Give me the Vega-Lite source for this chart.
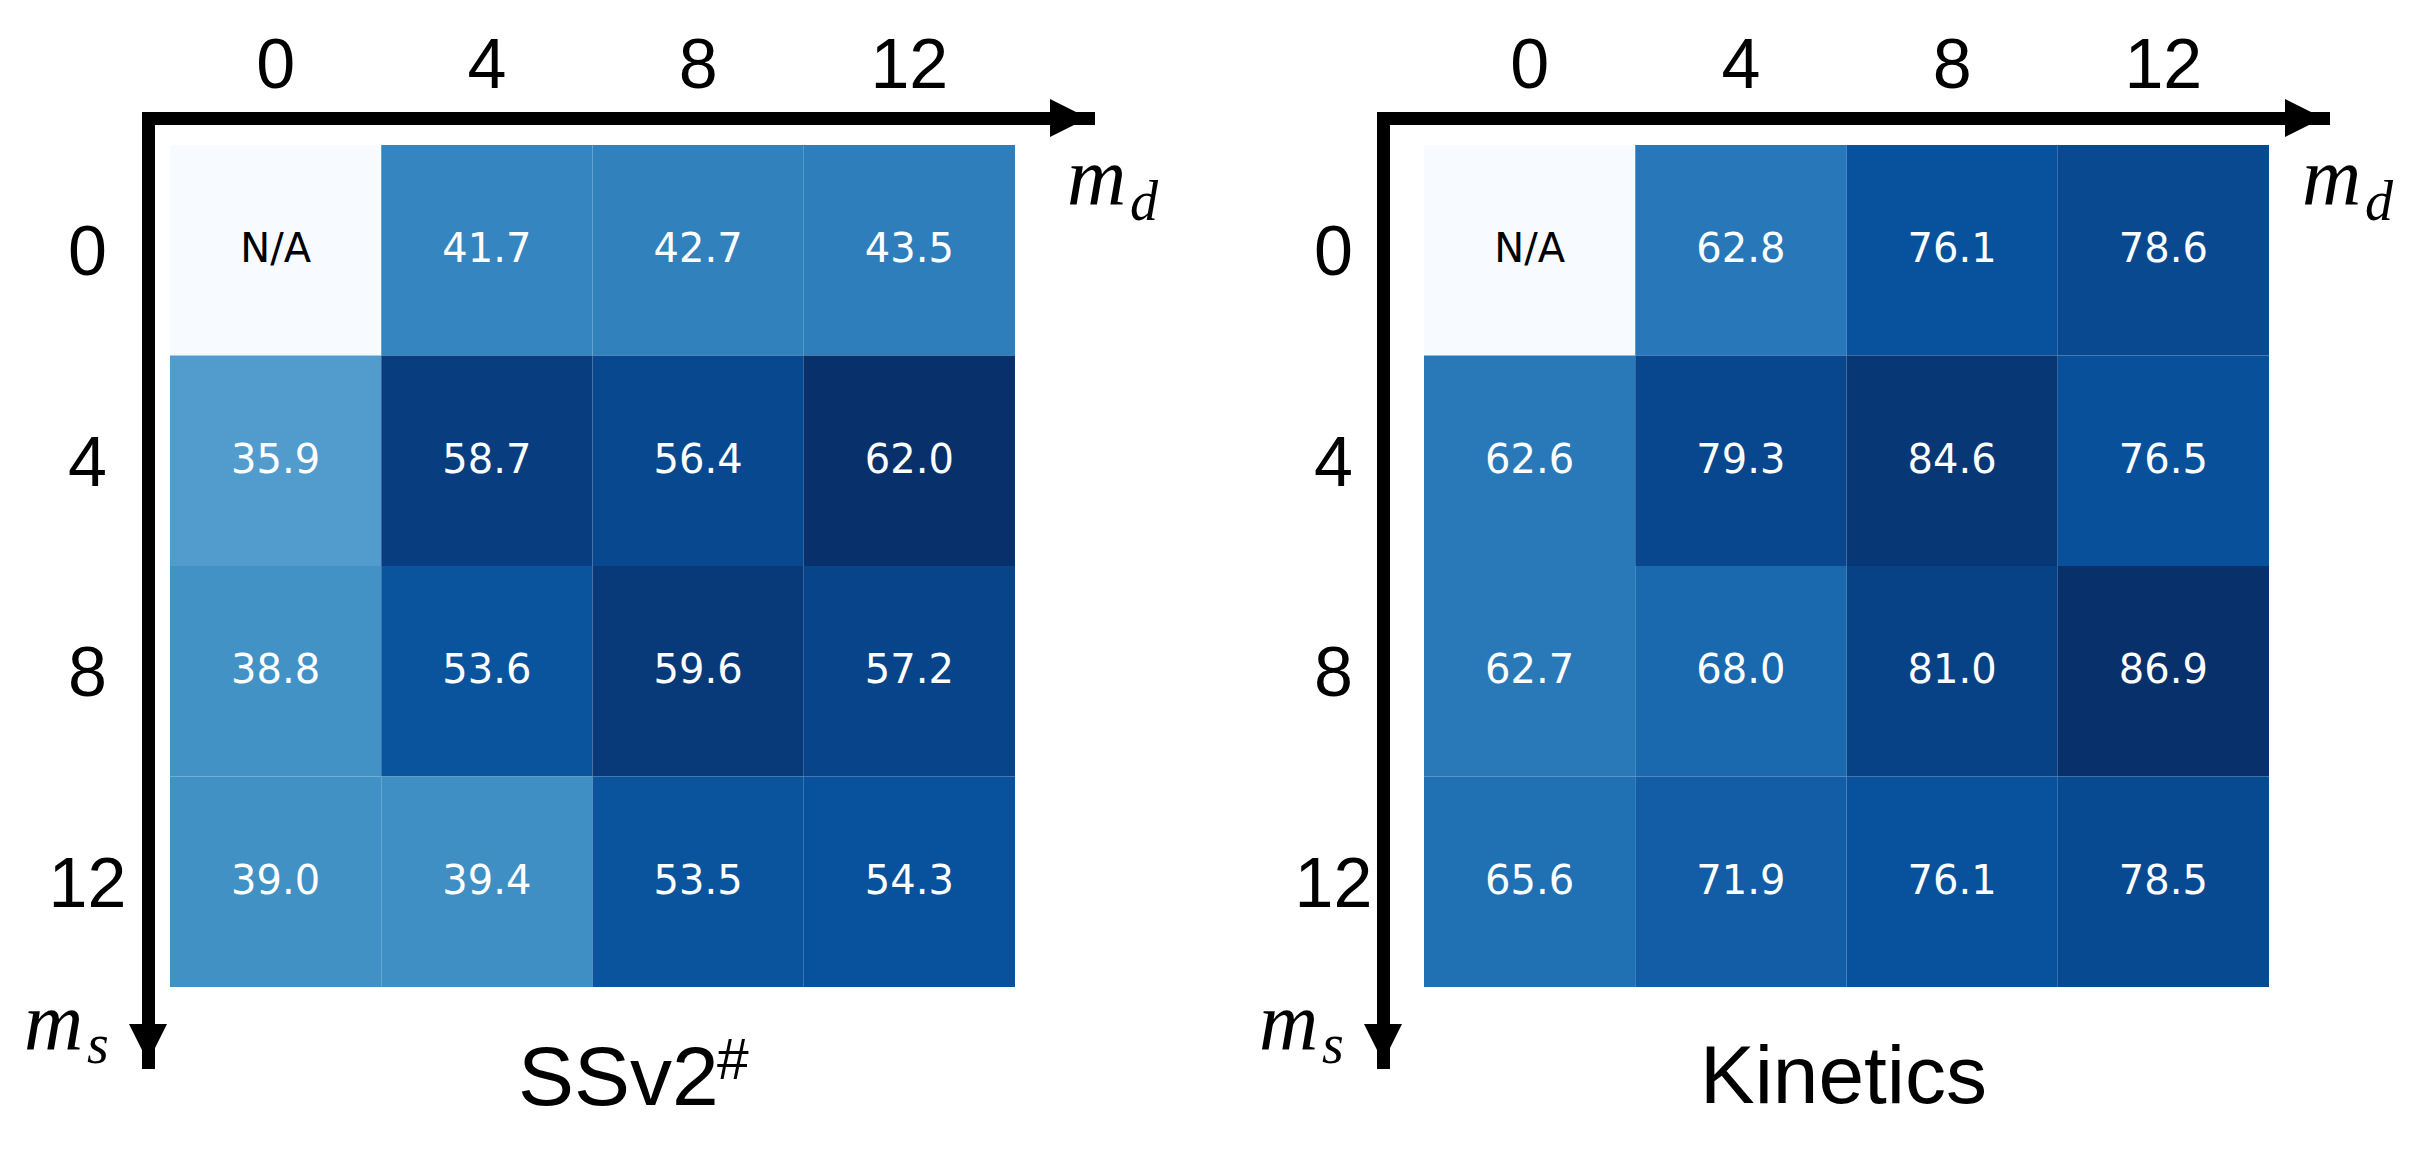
{
  "$schema": "https://vega.github.io/schema/vega-lite/v6.json",
  "background": "white",
  "padding": {"left": 24, "top": 31, "right": 5, "bottom": 5},
  "config": {
    "view": {"stroke": null},
    "axis": {
      "domainColor": "black",
      "domainWidth": 13,
      "domainCap": "square",
      "ticks": false,
      "tickSize": 0,
      "grid": false,
      "title": null,
      "labelFont": "Liberation Sans",
      "labelFontSize": 70,
      "labelColor": "black",
      "labelAngle": 0
    }
  },
  "datasets": {
    "cells": [
      {"panel": "SSv2", "ms": 0, "md": 0, "acc": null},
      {"panel": "SSv2", "ms": 0, "md": 4, "acc": 41.7},
      {"panel": "SSv2", "ms": 0, "md": 8, "acc": 42.7},
      {"panel": "SSv2", "ms": 0, "md": 12, "acc": 43.5},
      {"panel": "SSv2", "ms": 4, "md": 0, "acc": 35.9},
      {"panel": "SSv2", "ms": 4, "md": 4, "acc": 58.7},
      {"panel": "SSv2", "ms": 4, "md": 8, "acc": 56.4},
      {"panel": "SSv2", "ms": 4, "md": 12, "acc": 62.0},
      {"panel": "SSv2", "ms": 8, "md": 0, "acc": 38.8},
      {"panel": "SSv2", "ms": 8, "md": 4, "acc": 53.6},
      {"panel": "SSv2", "ms": 8, "md": 8, "acc": 59.6},
      {"panel": "SSv2", "ms": 8, "md": 12, "acc": 57.2},
      {"panel": "SSv2", "ms": 12, "md": 0, "acc": 39.0},
      {"panel": "SSv2", "ms": 12, "md": 4, "acc": 39.4},
      {"panel": "SSv2", "ms": 12, "md": 8, "acc": 53.5},
      {"panel": "SSv2", "ms": 12, "md": 12, "acc": 54.3},
      {"panel": "Kinetics", "ms": 0, "md": 0, "acc": null},
      {"panel": "Kinetics", "ms": 0, "md": 4, "acc": 62.8},
      {"panel": "Kinetics", "ms": 0, "md": 8, "acc": 76.1},
      {"panel": "Kinetics", "ms": 0, "md": 12, "acc": 78.6},
      {"panel": "Kinetics", "ms": 4, "md": 0, "acc": 62.6},
      {"panel": "Kinetics", "ms": 4, "md": 4, "acc": 79.3},
      {"panel": "Kinetics", "ms": 4, "md": 8, "acc": 84.6},
      {"panel": "Kinetics", "ms": 4, "md": 12, "acc": 76.5},
      {"panel": "Kinetics", "ms": 8, "md": 0, "acc": 62.7},
      {"panel": "Kinetics", "ms": 8, "md": 4, "acc": 68.0},
      {"panel": "Kinetics", "ms": 8, "md": 8, "acc": 81.0},
      {"panel": "Kinetics", "ms": 8, "md": 12, "acc": 86.9},
      {"panel": "Kinetics", "ms": 12, "md": 0, "acc": 65.6},
      {"panel": "Kinetics", "ms": 12, "md": 4, "acc": 71.9},
      {"panel": "Kinetics", "ms": 12, "md": 8, "acc": 76.1},
      {"panel": "Kinetics", "ms": 12, "md": 12, "acc": 78.5}
    ]
  },
  "bounds": "flush",
  "spacing": 295,
  "resolve": {"scale": {"color": "independent"}},
  "hconcat": [
    {
      "width": 940,
      "height": 944,
      "layer": [
        {
          "data": {"name": "cells"},
          "transform": [{"filter": "datum.panel === 'SSv2'"}],
          "encoding": {
            "x": {
              "field": "md", "type": "ordinal",
              "scale": {"paddingInner": 0, "paddingOuter": 0.2249, "align": 0.2316},
              "axis": {"orient": "top", "labelPadding": 31, "labelBaseline": "alphabetic"}
            },
            "y": {
              "field": "ms", "type": "ordinal",
              "scale": {"paddingInner": 0, "paddingOuter": 0.2423, "align": 0.265},
              "axis": {"orient": "left", "labelPadding": 61, "labelAlign": "center", "labelBaseline": "alphabetic", "labelOffset": 25}
            }
          },
          "layer": [
            {
              "mark": {"type": "rect", "invalid": "show"},
              "encoding": {
                "color": {
                  "condition": {"test": "datum.acc === null", "value": "#f7fbff"},
                  "field": "acc", "type": "quantitative",
                  "scale": {
                    "type": "linear",
                    "domain": [0, 7.75, 15.5, 23.25, 31, 38.75, 46.5, 54.25, 62],
                    "range": ["#f7fbff", "#deebf7", "#c6dbef", "#9ecae1", "#6baed6", "#4292c6", "#2171b5", "#08519c", "#08306b"],
                    "interpolate": "rgb"
                  },
                  "legend": null
                }
              }
            },
            {
              "mark": {"type": "text", "invalid": "show", "font": "DejaVu Sans", "fontSize": 40, "baseline": "middle"},
              "encoding": {
                "text": {
                  "condition": {"test": "datum.acc === null", "value": "N/A"},
                  "field": "acc", "type": "quantitative", "format": ".1f"
                },
                "color": {
                  "condition": {"test": "datum.acc === null", "value": "black"},
                  "value": "white"
                }
              }
            }
          ]
        },
        {
          "data": {"values": [{}]},
          "layer": [
            {
              "mark": {"type": "point", "shape": "M-1,-0.5L0,0L-1,0.5Z", "size": 5776, "filled": true, "color": "black", "opacity": 1, "strokeWidth": 0},
              "encoding": {
                "x": {"datum": 1, "type": "quantitative", "scale": {"domain": [0, 1], "nice": false}, "axis": null},
                "y": {"datum": 1, "type": "quantitative", "scale": {"domain": [0, 1], "nice": false}, "axis": null}
              }
            },
            {
              "mark": {"type": "point", "shape": "M-0.5,-1L0,0L0.5,-1Z", "size": 5776, "filled": true, "color": "black", "opacity": 1, "strokeWidth": 0},
              "encoding": {
                "x": {"datum": 0, "type": "quantitative"},
                "y": {"datum": 0, "type": "quantitative"}
              }
            },
            {
              "mark": {"type": "text", "text": "m", "font": "Liberation Serif", "fontStyle": "italic", "fontSize": 82, "align": "left", "baseline": "alphabetic"},
              "encoding": {
                "x": {"datum": 0.9777, "type": "quantitative"},
                "y": {"datum": 0.9089, "type": "quantitative"}
              }
            },
            {
              "mark": {"type": "text", "text": "d", "font": "Liberation Serif", "fontStyle": "italic", "fontSize": 56, "align": "left", "baseline": "alphabetic"},
              "encoding": {
                "x": {"datum": 1.0447, "type": "quantitative"},
                "y": {"datum": 0.892, "type": "quantitative"}
              }
            },
            {
              "mark": {"type": "text", "text": "m", "font": "Liberation Serif", "fontStyle": "italic", "fontSize": 82, "align": "left", "baseline": "alphabetic"},
              "encoding": {
                "x": {"datum": -0.1319, "type": "quantitative"},
                "y": {"datum": 0.0138, "type": "quantitative"}
              }
            },
            {
              "mark": {"type": "text", "text": "s", "font": "Liberation Serif", "fontStyle": "italic", "fontSize": 56, "align": "left", "baseline": "alphabetic"},
              "encoding": {
                "x": {"datum": -0.0649, "type": "quantitative"},
                "y": {"datum": -0.001, "type": "quantitative"}
              }
            },
            {
              "mark": {"type": "text", "text": "SSv2", "font": "Liberation Sans", "fontSize": 84, "align": "left", "baseline": "alphabetic"},
              "encoding": {
                "x": {"datum": 0.3936, "type": "quantitative"},
                "y": {"datum": -0.0456, "type": "quantitative"}
              }
            },
            {
              "mark": {"type": "text", "text": "#", "font": "Liberation Sans", "fontSize": 57, "align": "left", "baseline": "alphabetic"},
              "encoding": {
                "x": {"datum": 0.6053, "type": "quantitative"},
                "y": {"datum": -0.018, "type": "quantitative"}
              }
            }
          ]
        }
      ],
      "resolve": {
        "scale": {"x": "independent", "y": "independent"},
        "axis": {"x": "independent", "y": "independent"}
      }
    },
    {
      "width": 940,
      "height": 944,
      "layer": [
        {
          "data": {"name": "cells"},
          "transform": [{"filter": "datum.panel === 'Kinetics'"}],
          "encoding": {
            "x": {
              "field": "md", "type": "ordinal",
              "scale": {"paddingInner": 0, "paddingOuter": 0.2249, "align": 0.4316},
              "axis": {"orient": "top", "labelPadding": 31, "labelBaseline": "alphabetic"}
            },
            "y": {
              "field": "ms", "type": "ordinal",
              "scale": {"paddingInner": 0, "paddingOuter": 0.2423, "align": 0.265},
              "axis": {"orient": "left", "labelPadding": 50, "labelAlign": "center", "labelBaseline": "alphabetic", "labelOffset": 25}
            }
          },
          "layer": [
            {
              "mark": {"type": "rect", "invalid": "show"},
              "encoding": {
                "color": {
                  "condition": {"test": "datum.acc === null", "value": "#f7fbff"},
                  "field": "acc", "type": "quantitative",
                  "scale": {
                    "type": "linear",
                    "domain": [0, 10.8625, 21.725, 32.5875, 43.45, 54.3125, 65.175, 76.0375, 86.9],
                    "range": ["#f7fbff", "#deebf7", "#c6dbef", "#9ecae1", "#6baed6", "#4292c6", "#2171b5", "#08519c", "#08306b"],
                    "interpolate": "rgb"
                  },
                  "legend": null
                }
              }
            },
            {
              "mark": {"type": "text", "invalid": "show", "font": "DejaVu Sans", "fontSize": 40, "baseline": "middle"},
              "encoding": {
                "text": {
                  "condition": {"test": "datum.acc === null", "value": "N/A"},
                  "field": "acc", "type": "quantitative", "format": ".1f"
                },
                "color": {
                  "condition": {"test": "datum.acc === null", "value": "black"},
                  "value": "white"
                }
              }
            }
          ]
        },
        {
          "data": {"values": [{}]},
          "layer": [
            {
              "mark": {"type": "point", "shape": "M-1,-0.5L0,0L-1,0.5Z", "size": 5776, "filled": true, "color": "black", "opacity": 1, "strokeWidth": 0},
              "encoding": {
                "x": {"datum": 1, "type": "quantitative", "scale": {"domain": [0, 1], "nice": false}, "axis": null},
                "y": {"datum": 1, "type": "quantitative", "scale": {"domain": [0, 1], "nice": false}, "axis": null}
              }
            },
            {
              "mark": {"type": "point", "shape": "M-0.5,-1L0,0L0.5,-1Z", "size": 5776, "filled": true, "color": "black", "opacity": 1, "strokeWidth": 0},
              "encoding": {
                "x": {"datum": 0, "type": "quantitative"},
                "y": {"datum": 0, "type": "quantitative"}
              }
            },
            {
              "mark": {"type": "text", "text": "m", "font": "Liberation Serif", "fontStyle": "italic", "fontSize": 82, "align": "left", "baseline": "alphabetic"},
              "encoding": {
                "x": {"datum": 0.9777, "type": "quantitative"},
                "y": {"datum": 0.9089, "type": "quantitative"}
              }
            },
            {
              "mark": {"type": "text", "text": "d", "font": "Liberation Serif", "fontStyle": "italic", "fontSize": 56, "align": "left", "baseline": "alphabetic"},
              "encoding": {
                "x": {"datum": 1.0447, "type": "quantitative"},
                "y": {"datum": 0.892, "type": "quantitative"}
              }
            },
            {
              "mark": {"type": "text", "text": "m", "font": "Liberation Serif", "fontStyle": "italic", "fontSize": 82, "align": "left", "baseline": "alphabetic"},
              "encoding": {
                "x": {"datum": -0.1319, "type": "quantitative"},
                "y": {"datum": 0.0138, "type": "quantitative"}
              }
            },
            {
              "mark": {"type": "text", "text": "s", "font": "Liberation Serif", "fontStyle": "italic", "fontSize": 56, "align": "left", "baseline": "alphabetic"},
              "encoding": {
                "x": {"datum": -0.0649, "type": "quantitative"},
                "y": {"datum": -0.001, "type": "quantitative"}
              }
            },
            {
              "mark": {"type": "text", "text": "Kinetics", "font": "Liberation Sans", "fontSize": 82, "align": "center", "baseline": "alphabetic"},
              "encoding": {
                "x": {"datum": 0.4899, "type": "quantitative"},
                "y": {"datum": -0.0434, "type": "quantitative"}
              }
            }
          ]
        }
      ],
      "resolve": {
        "scale": {"x": "independent", "y": "independent"},
        "axis": {"x": "independent", "y": "independent"}
      }
    }
  ]
}
